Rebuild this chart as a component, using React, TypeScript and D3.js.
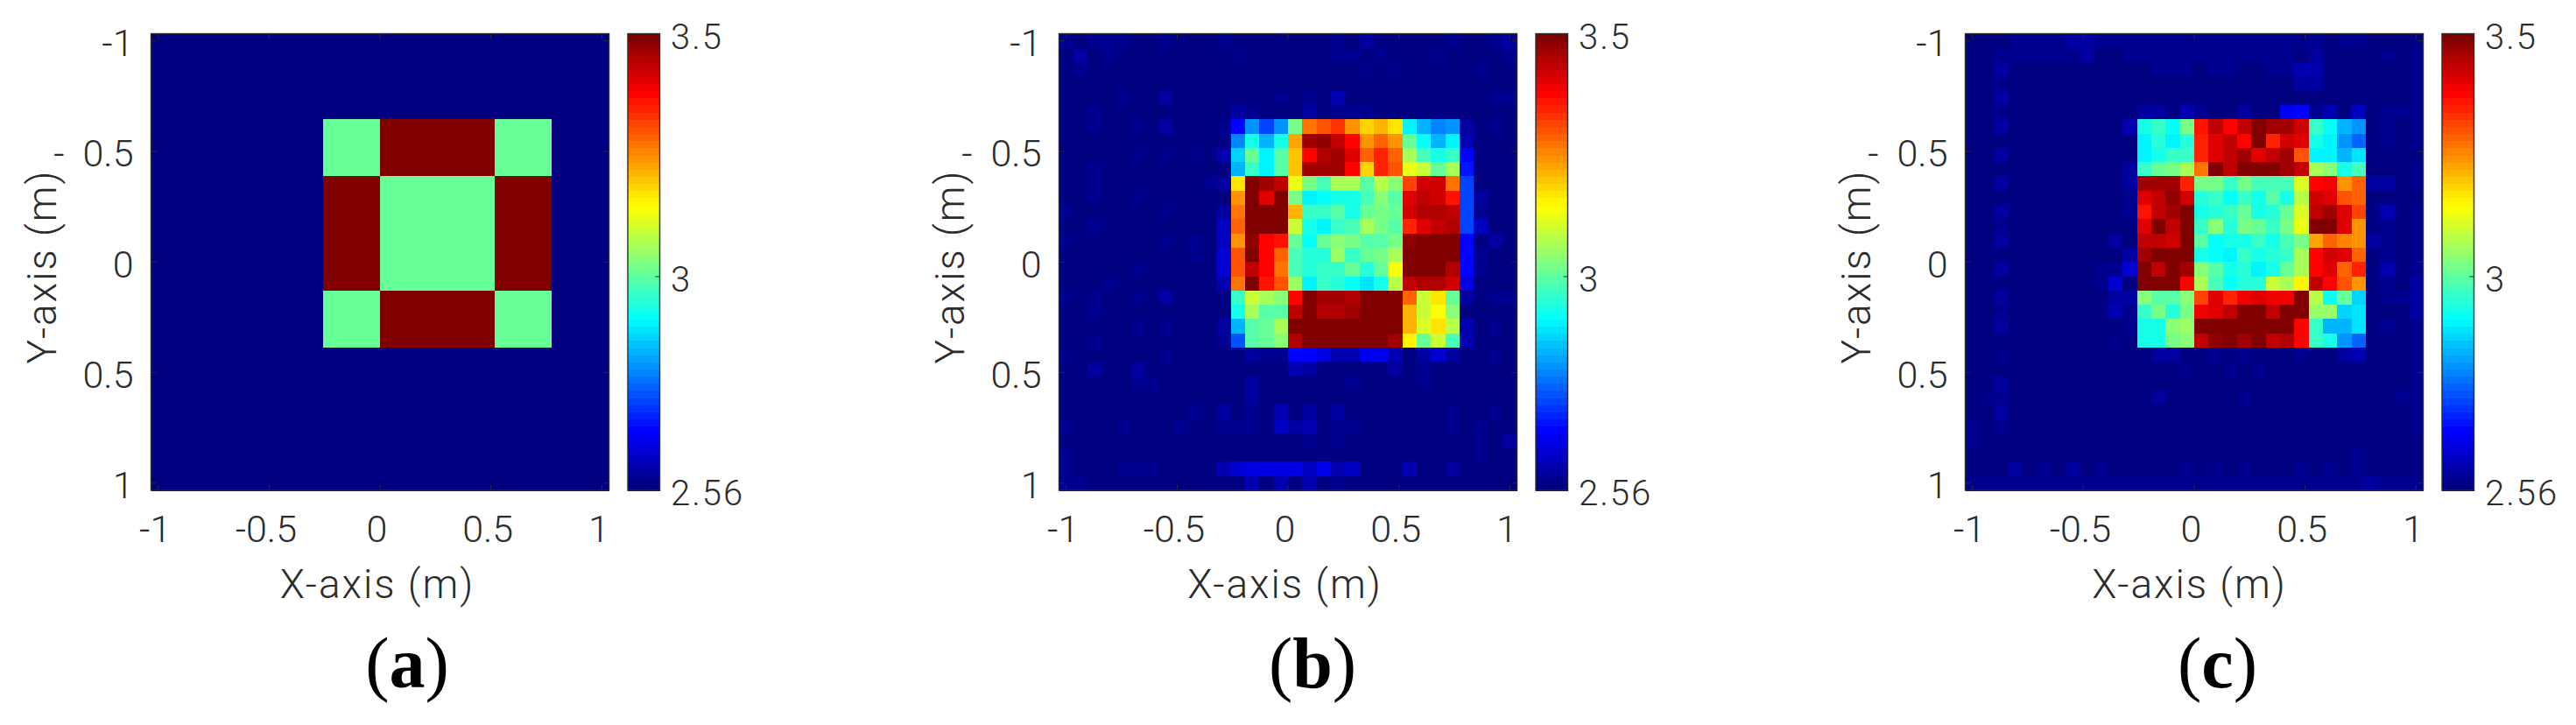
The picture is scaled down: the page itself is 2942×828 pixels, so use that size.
import React from "react";
import * as d3 from "d3";

// colour scale limits and tick labels
const cMin = 2.56;
const cMax = 3.5;
const cbTicks = [3.5, 3, 2.56];
const cbLabels = ["3.5", "3", "2.56"];
const xTicks = [-1, -0.5, 0, 0.5, 1];
const xLabels = ["-1", "-0.5", "0", "0.5", "1"];
const yLabels = ["-1", "-  0.5", "0", "0.5", "1"];
const panelNames = ["a", "b", "c"];

// (a) true model: 32 x 32 cells
const B = 2.56, G = 3.01, R = 3.5;
const bgRow = [B,B,B,B,B,B,B,B,B,B,B,B,B,B,B,B,B,B,B,B,B,B,B,B,B,B,B,B,B,B,B,B];
const edgeRow = [B,B,B,B,B,B,B,B,B,B,B,B,G,G,G,G,R,R,R,R,R,R,R,R,G,G,G,G,B,B,B,B];
const midRow = [B,B,B,B,B,B,B,B,B,B,B,B,R,R,R,R,G,G,G,G,G,G,G,G,R,R,R,R,B,B,B,B];
const modelA = [
  bgRow,bgRow,bgRow,bgRow,bgRow,bgRow,
  edgeRow,edgeRow,edgeRow,edgeRow,
  midRow,midRow,midRow,midRow,midRow,midRow,midRow,midRow,
  edgeRow,edgeRow,edgeRow,edgeRow,
  bgRow,bgRow,bgRow,bgRow,bgRow,bgRow,bgRow,bgRow,bgRow,bgRow,
];

// (b) reconstruction
const modelB = [
  [2.58,B,2.58,2.58,2.58,B,B,2.58,B,B,B,2.58,B,B,B,B,B,B,B,2.58,B,2.59,B,B,B,B,B,2.58,B,B,2.58,2.59],
  [B,2.59,B,2.58,B,B,B,B,B,B,B,B,2.58,B,B,B,B,B,B,2.58,2.58,B,2.58,B,B,B,2.58,B,B,B,B,2.58],
  [B,2.58,B,B,B,B,B,B,B,B,B,B,B,B,B,B,B,B,B,B,B,2.58,B,2.58,B,B,B,B,B,2.58,B,B],
  [B,B,B,B,B,B,B,B,B,B,B,B,B,B,B,B,B,B,B,B,B,B,B,B,B,B,B,B,B,B,B,B],
  [B,B,B,B,2.58,B,B,2.59,B,B,B,B,B,B,B,2.58,B,2.58,B,2.61,B,B,B,B,B,B,B,B,B,B,2.58,2.58],
  [B,B,2.58,B,B,B,B,B,B,B,B,B,2.59,2.58,B,B,B,2.59,B,2.58,2.58,2.58,B,B,B,B,B,B,B,B,B,B],
  [B,B,2.58,B,B,2.58,B,2.59,B,B,B,2.58,2.68,2.82,2.75,2.82,3.03,3.27,3.30,3.33,3.25,3.19,3.21,3.17,2.90,2.84,2.80,2.82,2.59,B,2.58,B],
  [B,B,B,B,B,B,B,B,B,B,B,B,2.80,2.93,2.85,2.93,3.23,3.46,3.48,3.43,3.38,3.25,3.28,3.25,3.01,2.92,2.85,2.91,2.61,B,B,B],
  [B,B,B,B,B,2.58,B,2.58,B,2.58,B,2.61,2.87,3.01,2.91,2.99,3.20,3.38,3.45,3.46,3.41,3.29,3.34,3.29,3.06,2.98,2.94,2.96,2.68,B,B,B],
  [B,B,2.58,B,B,B,B,B,B,B,B,B,2.84,2.96,2.91,2.99,3.20,3.46,3.46,3.47,3.38,3.19,3.35,3.30,3.13,3.09,3.01,3.07,2.70,B,B,B],
  [B,B,2.58,B,B,B,B,B,B,B,2.58,2.59,3.17,3.49,3.46,3.44,3.12,3.03,2.98,3.06,3.06,3.00,3.08,3.04,3.32,3.42,3.42,3.27,2.74,B,B,B],
  [B,B,2.58,B,B,2.58,B,B,B,B,B,B,3.25,3.49,3.41,3.50,3.03,2.91,2.92,2.94,2.94,2.98,3.04,3.00,3.41,3.43,3.42,3.36,2.74,2.59,B,B],
  [2.58,B,B,B,B,B,B,2.58,B,B,B,2.59,3.27,3.50,3.50,3.50,3.22,2.96,2.96,2.99,2.94,3.01,3.02,3.01,3.42,3.45,3.45,3.44,2.74,2.58,B,B],
  [B,B,2.58,B,B,B,B,B,B,B,B,2.62,3.29,3.50,3.49,3.50,3.10,2.94,2.91,2.96,2.98,3.07,3.03,3.00,3.34,3.40,3.43,3.45,2.74,2.62,B,B],
  [2.58,B,B,B,B,B,B,2.58,B,2.58,B,2.62,3.24,3.48,3.38,3.36,3.01,2.92,3.01,3.04,3.03,3.00,2.99,3.02,3.48,3.50,3.50,3.50,2.68,B,2.59,B],
  [B,B,B,B,B,B,B,B,B,2.58,B,2.64,3.30,3.49,3.37,3.29,2.98,2.95,2.95,3.05,2.96,3.01,3.03,3.07,3.50,3.50,3.50,3.50,2.69,2.58,B,B],
  [B,B,B,B,B,2.58,B,B,B,B,B,2.64,3.30,3.43,3.37,3.27,2.98,2.95,2.96,2.97,3.01,2.95,3.01,3.14,3.50,3.50,3.50,3.45,2.68,2.58,B,B],
  [B,B,B,2.58,B,B,B,B,B,B,B,2.61,3.27,3.49,3.36,3.30,3.05,2.91,2.96,2.95,2.92,2.89,2.93,3.08,3.43,3.45,3.45,3.42,2.65,B,B,B],
  [2.58,B,2.58,B,B,2.58,B,2.59,B,B,B,B,2.96,3.09,3.06,3.04,3.38,3.49,3.46,3.47,3.45,3.49,3.50,3.50,3.28,3.09,3.17,3.01,2.59,B,2.58,2.58],
  [B,B,2.58,B,B,B,B,B,B,B,B,B,2.93,3.07,2.99,2.99,3.44,3.50,3.45,3.45,3.47,3.50,3.50,3.50,3.22,3.10,3.14,3.04,B,B,B,B],
  [B,B,B,B,B,2.58,B,2.58,B,B,B,2.59,2.85,3.00,3.01,3.06,3.50,3.50,3.50,3.50,3.50,3.50,3.50,3.50,3.22,3.11,3.17,3.08,2.61,B,2.58,B],
  [B,B,2.58,B,B,B,B,B,B,B,B,2.58,2.76,3.00,3.01,3.04,3.45,3.50,3.50,3.50,3.50,3.50,3.50,3.46,3.15,3.01,3.09,2.98,2.61,B,B,B],
  [2.58,B,B,B,B,B,B,2.58,B,B,B,B,B,2.59,2.58,2.58,2.68,2.68,2.65,2.61,2.61,2.67,2.67,2.61,B,2.59,2.64,2.59,B,B,2.58,B],
  [B,B,2.59,B,B,2.59,B,B,B,B,B,B,B,B,B,B,2.61,2.59,B,B,B,B,B,2.59,B,2.58,B,B,B,B,B,B],
  [B,B,B,B,B,2.58,2.58,B,B,B,B,B,B,2.59,B,B,B,B,B,B,2.58,B,B,B,B,2.58,B,B,B,B,B,B],
  [B,B,B,B,B,B,B,B,B,B,B,B,B,2.59,B,B,B,B,B,B,B,B,B,B,B,B,B,B,B,B,B,B],
  [B,B,B,B,B,B,B,B,B,2.58,B,2.59,B,2.58,B,2.61,B,2.59,B,2.59,B,B,B,B,B,B,B,2.58,B,B,2.58,B],
  [2.58,B,B,B,2.58,B,B,B,2.58,B,B,2.58,2.58,2.58,B,2.62,2.59,2.61,B,2.58,2.58,B,B,B,B,B,B,2.58,B,2.58,B,B],
  [B,B,B,B,B,B,B,B,B,B,B,B,B,B,B,B,B,2.58,B,2.58,B,B,B,B,B,B,B,B,B,2.58,B,2.59],
  [2.58,B,B,B,B,B,B,B,B,B,B,B,B,B,B,B,B,B,B,B,B,B,B,B,B,B,B,B,B,2.58,B,B],
  [2.58,B,B,B,2.58,2.58,2.58,B,B,B,B,2.61,2.64,2.65,2.65,2.65,2.65,2.62,2.67,2.61,2.62,B,B,B,2.61,B,B,2.59,B,B,B,B],
  [2.58,2.58,B,B,B,B,B,B,B,B,B,B,B,2.61,B,2.61,B,2.61,B,2.58,B,B,B,B,B,B,B,B,B,B,B,B],
];

// (c) reconstruction
const modelC = [
  [B,B,B,2.58,2.58,2.58,2.58,2.59,2.59,2.58,2.58,2.58,2.58,2.58,2.58,2.58,2.58,2.58,2.58,2.58,2.58,2.58,2.58,2.58,2.58,B,2.58,2.58,B,B,B,B],
  [B,B,2.58,2.58,2.58,2.58,2.58,2.58,2.59,B,B,2.58,2.58,2.58,2.58,2.58,2.58,2.58,2.58,2.58,2.58,2.58,2.58,B,2.59,B,B,B,B,2.58,B,2.58],
  [B,B,2.59,B,B,B,B,B,B,B,B,B,B,2.58,2.58,2.58,B,2.58,2.58,B,B,2.58,2.58,2.61,2.61,B,B,B,B,B,B,2.58],
  [B,B,2.58,B,B,B,B,B,B,B,B,B,B,B,B,B,B,B,B,B,B,B,B,2.59,2.59,B,B,B,B,B,B,2.58],
  [B,B,2.59,B,B,B,B,B,B,B,B,B,B,B,B,B,B,B,B,B,B,B,B,B,B,B,B,B,B,B,B,2.58],
  [B,B,2.58,B,B,B,B,B,B,B,B,B,2.59,2.59,B,2.61,2.58,B,B,2.59,B,B,2.67,2.68,2.58,2.61,B,2.62,B,2.58,2.58,2.58],
  [B,B,2.59,B,B,B,B,B,B,B,B,2.61,2.94,2.97,2.92,3.03,3.36,3.43,3.38,3.43,3.50,3.47,3.47,3.42,2.96,2.92,2.84,2.81,B,2.58,B,2.58],
  [B,B,B,B,B,B,B,B,B,B,B,B,2.91,2.95,2.91,2.95,3.35,3.41,3.43,3.38,3.50,3.34,3.42,3.40,2.93,2.91,2.81,2.78,B,2.58,B,2.58],
  [B,B,2.59,B,B,B,B,B,B,B,B,B,2.91,2.94,2.96,2.97,3.34,3.40,3.44,3.46,3.41,3.44,3.47,3.30,2.91,2.91,2.84,2.89,B,B,B,B],
  [B,B,B,B,B,B,B,B,B,B,B,2.59,2.96,3.01,3.02,3.07,3.27,3.50,3.43,3.50,3.50,3.50,3.47,3.43,3.07,3.04,2.93,2.98,B,B,B,2.58],
  [B,B,2.59,B,B,B,B,B,B,B,B,2.59,3.47,3.46,3.46,3.35,3.03,3.03,2.96,3.03,2.98,2.98,2.98,3.11,3.38,3.39,3.25,3.29,2.59,2.59,B,2.58],
  [B,B,B,B,B,B,B,B,B,B,B,2.58,3.41,3.44,3.48,3.42,2.95,2.97,2.92,2.97,2.94,2.99,2.94,3.08,3.42,3.41,3.30,3.29,B,B,B,B],
  [B,B,2.59,B,B,B,B,B,B,B,B,2.58,3.36,3.44,3.46,3.50,2.94,2.95,2.97,3.01,2.94,2.95,3.01,3.11,3.44,3.46,3.40,3.31,B,2.61,B,2.58],
  [B,B,2.58,B,B,B,B,B,B,B,B,B,3.41,3.50,3.43,3.50,2.96,3.04,2.95,3.02,3.01,2.97,3.02,3.12,3.50,3.50,3.41,3.25,B,2.58,B,2.58],
  [B,B,2.59,B,B,B,B,B,B,B,2.59,B,3.43,3.43,3.42,3.49,3.00,2.92,2.94,2.93,2.97,2.93,2.98,3.03,3.23,3.29,3.26,3.25,2.59,2.58,B,2.58],
  [B,B,B,B,B,B,B,B,B,B,B,2.59,3.47,3.50,3.50,3.49,2.94,2.92,2.91,2.96,2.93,2.95,2.97,3.07,3.38,3.42,3.40,3.28,B,2.58,B,2.58],
  [B,B,2.59,B,B,B,B,B,B,2.58,2.58,2.64,3.50,3.44,3.50,3.46,3.04,2.99,2.94,2.95,2.91,2.94,3.01,3.07,3.38,3.40,3.29,3.34,B,2.61,B,2.58],
  [B,B,B,B,B,B,B,B,B,2.58,2.64,B,3.50,3.50,3.50,3.38,3.07,2.98,2.92,2.95,2.95,3.09,3.07,3.15,3.43,3.38,3.30,3.25,B,2.58,B,2.59],
  [B,B,2.59,B,B,B,B,B,B,B,2.59,2.59,3.04,2.99,2.99,3.04,3.32,3.40,3.35,3.39,3.41,3.39,3.39,3.49,3.08,2.92,3.01,2.87,B,2.58,2.58,2.59],
  [B,B,2.58,B,B,B,B,B,B,B,2.61,2.58,2.96,3.02,2.95,3.02,3.39,3.41,3.44,3.50,3.50,3.44,3.50,3.50,3.05,3.05,2.88,2.89,B,B,B,2.59],
  [B,B,2.59,B,B,B,B,B,B,B,B,2.58,2.93,2.93,3.04,3.05,3.50,3.50,3.50,3.49,3.50,3.50,3.50,3.38,2.96,2.85,2.84,2.89,B,2.58,B,2.58],
  [B,B,B,B,B,B,B,B,B,B,2.58,B,2.93,2.93,3.02,3.04,3.44,3.48,3.50,3.46,3.50,3.44,3.45,3.38,2.97,2.93,2.82,2.77,B,B,B,2.58],
  [B,B,2.58,B,B,B,B,B,B,B,B,B,B,2.59,2.59,B,B,2.58,B,2.58,B,B,B,2.58,B,B,2.59,2.61,B,B,B,2.58],
  [B,B,B,B,B,B,B,B,B,B,B,B,B,B,B,2.58,B,B,2.58,B,2.58,B,B,B,B,B,B,B,B,B,B,2.58],
  [B,B,2.59,B,B,B,B,B,B,B,B,B,B,B,B,B,B,B,B,B,B,B,B,B,B,B,B,B,B,B,B,2.58],
  [B,2.58,2.58,B,B,B,B,B,B,B,B,B,B,2.59,B,B,B,B,B,2.58,B,B,B,B,B,B,B,B,B,B,2.58,2.58],
  [B,B,2.59,B,B,B,B,B,B,B,B,B,B,B,B,B,B,B,B,B,B,B,B,B,B,B,B,B,B,B,B,2.58],
  [2.58,B,2.58,B,B,B,B,B,B,B,B,B,B,B,B,B,B,B,B,B,B,B,B,B,B,B,B,B,B,B,B,2.58],
  [2.58,B,B,B,B,B,B,B,B,B,B,B,B,B,B,B,B,B,B,B,B,B,B,B,B,B,B,B,B,B,B,B],
  [B,B,B,B,B,B,B,B,B,B,B,B,B,B,B,B,B,B,B,B,B,B,B,B,B,B,B,2.58,B,B,B,B],
  [B,B,B,2.59,B,2.58,B,2.59,B,2.58,B,B,B,B,B,2.58,B,2.58,B,2.58,B,B,B,2.58,B,2.58,B,2.58,B,B,B,B],
  [2.58,2.58,2.58,2.58,2.58,2.58,2.58,2.58,2.58,2.58,2.58,2.58,2.58,2.58,2.58,2.58,2.58,2.58,2.58,2.58,2.58,2.58,2.58,2.58,2.58,2.58,2.58,2.58,2.59,2.58,2.58,2.58],
];

const models = [modelA, modelB, modelC];

const clamp = (v: number) => Math.max(0, Math.min(1, v));
const jet = d3.range(64).map((i) => {
  const t = i / 63;
  return d3.rgb(
    255 * clamp(1.5 - Math.abs(4 * t - 3)),
    255 * clamp(1.5 - Math.abs(4 * t - 2)),
    255 * clamp(1.5 - Math.abs(4 * t - 1))
  ).formatHex();
});
const color = d3.scaleQuantize<string>().domain([cMin, cMax]).range(jet);

const W = 2942;
const H = 828;
const plotW = 523;
const top = 38.5;
const bottom = 560;
const panelLeft = [172.5, 1209.5, 2244.5];
// the subplots were pasted by hand, so the titles sit a bit differently in each
const xTitleDx = [258.5, 258, 256];
const tagDx = [292.5, 289.5, 288];
const cbDx = 544.5;
const cbW = 36.5;
const ink = "#2b2b2b";
const tickFont = "Roboto, 'Liberation Sans', sans-serif";

function Panel({ idx }: { idx: number }) {
  const left = panelLeft[idx];
  const right = left + plotW;
  const model = models[idx];
  const cols = d3.scaleBand<number>().domain(d3.range(32)).range([left, right]);
  const rows = d3.scaleBand<number>().domain(d3.range(32)).range([top, bottom]);
  const half = cols.bandwidth() / 2;
  const x = d3.scaleLinear().domain([-1, 1]).range([left + half, right - half]);
  const y = d3.scaleLinear().domain([-1, 1]).range([top + rows.bandwidth() / 2, bottom - rows.bandwidth() / 2]);
  const cb = d3.scaleLinear().domain([cMin, cMax]).range([bottom, top]);
  const bands = d3.scaleBand<number>().domain(d3.range(64)).range([bottom, top]);
  const cbLeft = left + cbDx;
  const tickStyle = { fontFamily: tickFont, fontWeight: 300, fontSize: 43, fill: ink };

  return (
    <g>
      <g shapeRendering="crispEdges">
        {model.map((row, r) =>
          row.map((v, c) => (
            <rect
              key={r + "-" + c}
              x={cols(c)}
              y={rows(r)}
              width={cols.bandwidth() + 0.5}
              height={rows.bandwidth() + 0.5}
              fill={color(v)}
            />
          ))
        )}
      </g>
      <rect x={left} y={top} width={plotW} height={bottom - top} fill="none" stroke={ink} strokeWidth={1.4} />
      {xTicks.map((t, i) => (
        <g key={"xt" + i} stroke={ink} strokeWidth={1}>
          <line x1={x(t)} x2={x(t)} y1={top} y2={top + 6} />
          <line x1={x(t)} x2={x(t)} y1={bottom} y2={bottom - 6} />
          <line x1={left} x2={left + 6} y1={y(t)} y2={y(t)} />
          <line x1={right} x2={right - 6} y1={y(t)} y2={y(t)} />
        </g>
      ))}
      {xTicks.map((t, i) => (
        <text key={"xl" + i} x={x(t) - 3.5} y={619} textAnchor="middle" style={tickStyle}>
          {xLabels[i]}
        </text>
      ))}
      {xTicks.map((t, i) => (
        <text key={"yl" + i} x={left - 20} y={y(t) + 17.5} textAnchor="end" xmlSpace="preserve" style={tickStyle}>
          {yLabels[i]}
        </text>
      ))}
      <text
        x={left + xTitleDx[idx]}
        y={682.5}
        textAnchor="middle"
        style={{ ...tickStyle, fontSize: 46, letterSpacing: 2 }}
      >
        X-axis (m)
      </text>
      <text
        transform={`translate(${left - 109},304.5) rotate(-90)`}
        textAnchor="middle"
        style={{ ...tickStyle, fontSize: 46, letterSpacing: 2 }}
      >
        Y-axis (m)
      </text>
      <g shapeRendering="crispEdges">
        {jet.map((c, i) => (
          <rect key={i} x={cbLeft} y={bands(i)} width={cbW} height={bands.bandwidth() + 0.5} fill={c} />
        ))}
      </g>
      <rect x={cbLeft} y={top} width={cbW} height={bottom - top} fill="none" stroke={ink} strokeWidth={1.4} />
      {cbTicks.map((t, i) => (
        <g key={"cb" + i}>
          <line x1={cbLeft + cbW} x2={cbLeft + cbW - 5} y1={cb(t)} y2={cb(t)} stroke={ink} strokeWidth={1} />
          <text
            x={cbLeft + cbW + 12.5}
            y={cb(t) + (i === 0 ? 17.5 : 17)}
            style={{ ...tickStyle, fontSize: 40, letterSpacing: 2 }}
          >
            {cbLabels[i]}
          </text>
        </g>
      ))}
      <text
        x={left + tagDx[idx]}
        y={785}
        textAnchor="middle"
        style={{ fontFamily: "'Liberation Serif', serif", fontSize: 82, fill: "#000" }}
      >
        (<tspan fontWeight="bold">{panelNames[idx]}</tspan>)
      </text>
    </g>
  );
}

export default function App() {
  return (
    <svg
      width={W}
      height={H}
      viewBox={`0 0 ${W} ${H}`}
      style={{ position: "absolute", left: 0, top: 0, display: "block", background: "#fff" }}
    >
      {panelNames.map((_, i) => (
        <Panel key={i} idx={i} />
      ))}
    </svg>
  );
}
